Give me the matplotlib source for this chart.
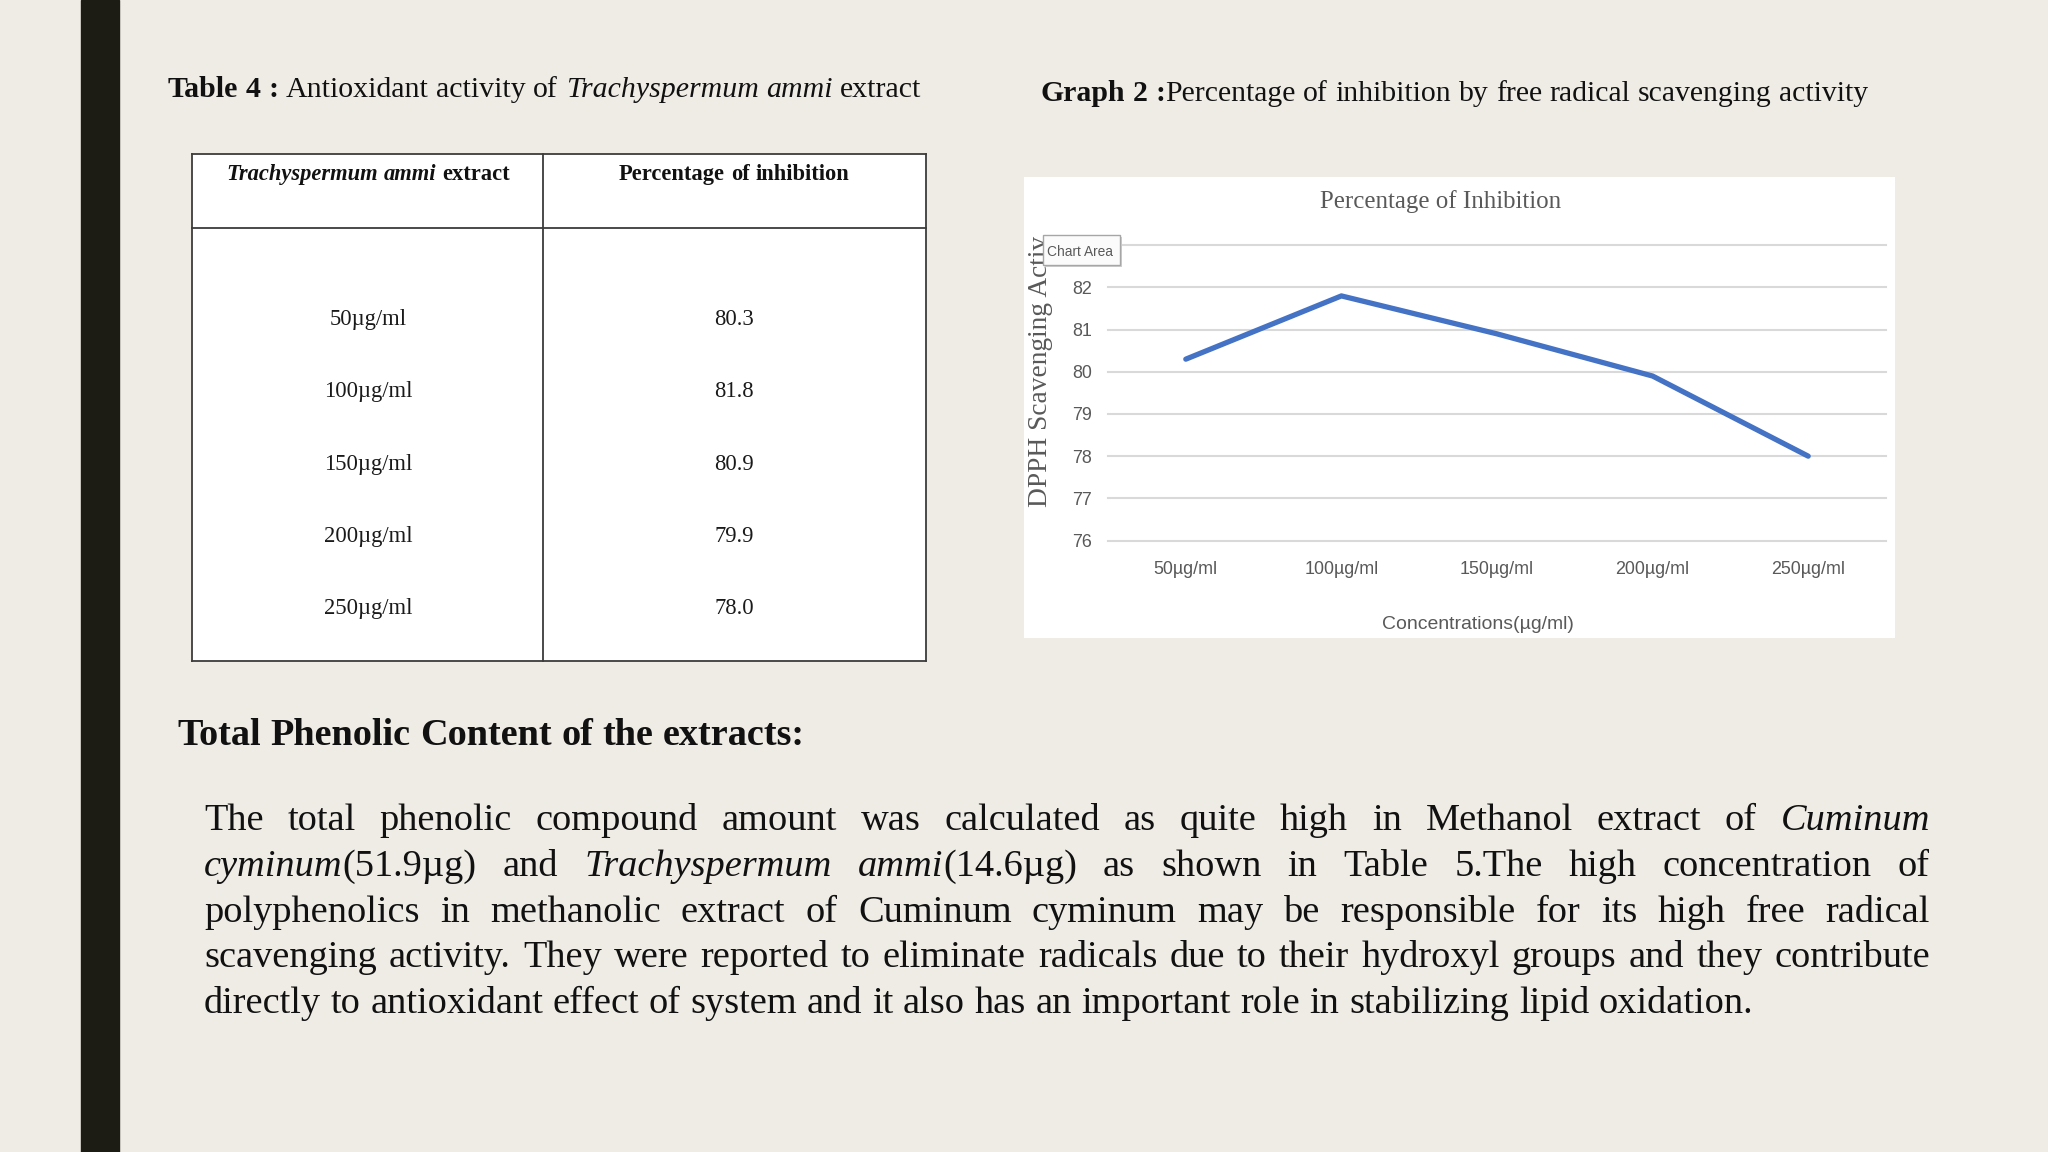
import matplotlib
matplotlib.use("Agg")
import matplotlib.pyplot as plt
from matplotlib.patches import Rectangle
from matplotlib.lines import Line2D

W, H = 2048, 1152
SERIF = ["Liberation Serif", "DejaVu Serif"]
NARROW = ["Liberation Sans Narrow", "Liberation Sans", "DejaVu Sans"]
BG = "#efece6"
INK = "#111111"
GREY = "#595959"

# data
concentrations = ["50µg/ml", "100µg/ml", "150µg/ml", "200µg/ml", "250µg/ml"]
inhibition = [80.3, 81.8, 80.9, 79.9, 78.0]
table_values = ["80.3", "81.8", "80.9", "79.9", "78.0"]
y_ticks = [76, 77, 78, 79, 80, 81, 82, 83]

# texts: *...* italic, ~...~ bold
table_title = "~Table 4 :~ Antioxidant activity of *Trachyspermum ammi* extract"
graph_title = "~Graph 2 :~Percentage of inhibition by free radical scavenging activity"
table_headers = ["~*Trachyspermum ammi*~ ~extract~", "~Percentage of inhibition~"]
chart_title = "Percentage of Inhibition"
y_label = "DPPH Scavenging Activ"
x_label = "Concentrations(µg/ml)"
heading = "~Total Phenolic Content of the extracts:~"
paragraph = [
    "The total phenolic compound amount was calculated as quite high in Methanol extract of *Cuminum*",
    "*cyminum*(51.9µg) and *Trachyspermum ammi*(14.6µg) as shown in Table 5.The high concentration of",
    "polyphenolics in methanolic extract of Cuminum cyminum may be responsible for its high free radical",
    "scavenging activity. They were reported to eliminate radicals due to their hydroxyl groups and they contribute",
    "directly to antioxidant effect of system and it also has an important role in stabilizing lipid oxidation.",
]

fig = plt.figure(figsize=(20.48, 11.52), dpi=100, facecolor=BG)
renderer = fig.canvas.get_renderer()


def fx(x):
    return x / W


def fy(y):
    return 1 - y / H


def parse(line):
    words = []
    italic = bold = False
    for raw in line.split(" "):
        word, buf = [], ""
        for ch in raw:
            if ch in "*~":
                if buf:
                    word.append((buf, italic, bold))
                    buf = ""
                if ch == "*":
                    italic = not italic
                else:
                    bold = not bold
            else:
                buf += ch
        if buf:
            word.append((buf, italic, bold))
        if word:
            words.append(word)
    return words


def make(s, italic, bold, size, color, family, **kw):
    return fig.text(0, 0, s, fontsize=size, family=family,
                    style="italic" if italic else "normal",
                    weight="bold" if bold else "normal",
                    color=color, ha="left", va="baseline", **kw)


def width(t):
    return t.get_window_extent(renderer).width


def space_width(size, family, bold=False):
    a = make("a a", False, bold, size, INK, family)
    b = make("aa", False, bold, size, INK, family)
    w = width(a) - width(b)
    a.remove()
    b.remove()
    return w


def rich(line, x, y, size, color=INK, family=SERIF, justify=None, draw=True, center=False):
    words = parse(line)
    pieces, widths = [], []
    for word in words:
        ws = []
        for s, it, bd in word:
            t = make(s, it, bd, size, color, family)
            ws.append((t, width(t)))
        pieces.append(ws)
        widths.append(sum(w for _, w in ws))
    gap = space_width(size, family, bold=words[0][0][2])
    if justify is not None and len(words) > 1:
        gap = (justify - sum(widths)) / (len(words) - 1)
    total = sum(widths) + gap * (len(words) - 1)
    if not draw:
        for ws in pieces:
            for t, _ in ws:
                t.remove()
        return total
    cx = x - total / 2 if center else x
    for ws in pieces:
        for t, w in ws:
            t.set_position((fx(cx), fy(y)))
            cx += w
        cx += gap
    return total


def fit(line, target, family=SERIF, s0=20.0):
    return s0 * target / rich(line, 0, 0, s0, family=family, draw=False)


def hline(x0, x1, y0, y1, color="#3c3c3c", lw=1.3, z=2):
    fig.add_artist(Line2D([fx(x0), fx(x1)], [fy(y0), fy(y1)], transform=fig.transFigure,
                          color=color, lw=lw, zorder=z))


def rect(x0, y0, x1, y1, z=-1, **kw):
    fig.add_artist(Rectangle((fx(x0), fy(y1)), (x1 - x0) / W, (y1 - y0) / H,
                             transform=fig.transFigure, zorder=z, **kw))


# left dark bar
rect(81, 0, 119, H, color="#1c1c14")

# titles
rich(table_title, 168, 97, fit(table_title, 752))
rich(graph_title, 1041, 101, fit(graph_title, 827))

# table
rect(192, 154, 926, 661, facecolor="white", edgecolor="none")
hline(192, 926, 154, 154)
hline(192, 926, 661, 661)
hline(192, 192, 154, 661)
hline(926, 926, 154, 661)
hline(543, 543, 154, 661)
hline(192, 926, 228, 228)

head_size = fit(table_headers[1], 230)
rich(table_headers[0], 368, 180, head_size, center=True)
rich(table_headers[1], 734, 180, head_size, center=True)

cell_size = fit(concentrations[0], 77)
row_base = [325, 397, 470, 542, 614]
for yb, lab, val in zip(row_base, concentrations, table_values):
    fig.text(fx(368), fy(yb), lab, fontsize=cell_size, family=SERIF, color="#1a1a1a",
             ha="center", va="baseline")
    fig.text(fx(734), fy(yb), val, fontsize=cell_size, family=SERIF, color="#1a1a1a",
             ha="center", va="baseline")

# chart (pasted Excel picture)
rect(1024, 177, 1895, 638, facecolor="white", edgecolor="none")
tick_size = fit(concentrations[0], 64, family=NARROW)

ax = fig.add_axes([fx(1108), fy(540.5), (1886 - 1108) / W, (540.5 - 245.3) / H])
ax.set_facecolor("none")
ax.plot(range(len(inhibition)), inhibition, color="#4472c4", lw=3.8,
        solid_joinstyle="round", solid_capstyle="round", zorder=3)
ax.set_xlim(-0.5, len(inhibition) - 0.5)
ax.set_ylim(y_ticks[0], y_ticks[-1])
ax.set_yticks(y_ticks)
ax.set_xticks(range(len(concentrations)))
ax.set_xticklabels(concentrations, family=NARROW)
ax.set_yticklabels([str(v) for v in y_ticks], family=NARROW)
ax.grid(axis="y", color="#d9d9d9", lw=1.5)
ax.set_axisbelow(True)
for gl in ax.get_ygridlines():
    gl.set_clip_on(False)
for s in ax.spines.values():
    s.set_visible(False)
ax.tick_params(axis="both", length=0, colors=GREY, labelsize=tick_size)
ax.tick_params(axis="y", pad=11.5)
ax.tick_params(axis="x", pad=14.5)

fig.text(fx(1441), fy(208), chart_title, fontsize=fit(chart_title, 241), family=SERIF,
         color=GREY, ha="center", va="baseline")
fig.text(fx(1478), fy(629), x_label, fontsize=fit(x_label, 191, family=NARROW), family=NARROW,
         color=GREY, ha="center", va="baseline")
fig.text(fx(1047), fy(507), y_label, fontsize=fit(y_label, 272), family=SERIF, color=GREY,
         rotation=90, rotation_mode="anchor", ha="left", va="baseline")

# "Chart Area" tooltip
rect(1045, 237, 1122, 267, z=4, facecolor="#cfcfcf", edgecolor="none")
rect(1043, 235, 1120, 265, z=5, facecolor="#fbfbfb", edgecolor="#a6a6a6", lw=1)
fig.text(fx(1047), fy(256), "Chart Area", fontsize=fit("Chart Area", 66, family=NARROW),
         family=NARROW, color=GREY, ha="left", va="baseline", zorder=6)

# heading and justified paragraph
rich(heading, 177, 745, fit(heading, 628))
par_size = fit(paragraph[-1], 1548)
base = [830, 876, 922, 967, 1013]
for i, (line, yb) in enumerate(zip(paragraph, base)):
    last = i == len(paragraph) - 1
    rich(line, 204, yb, par_size, justify=None if last else 1726)

fig.savefig("out.png", dpi=100, facecolor=BG)
